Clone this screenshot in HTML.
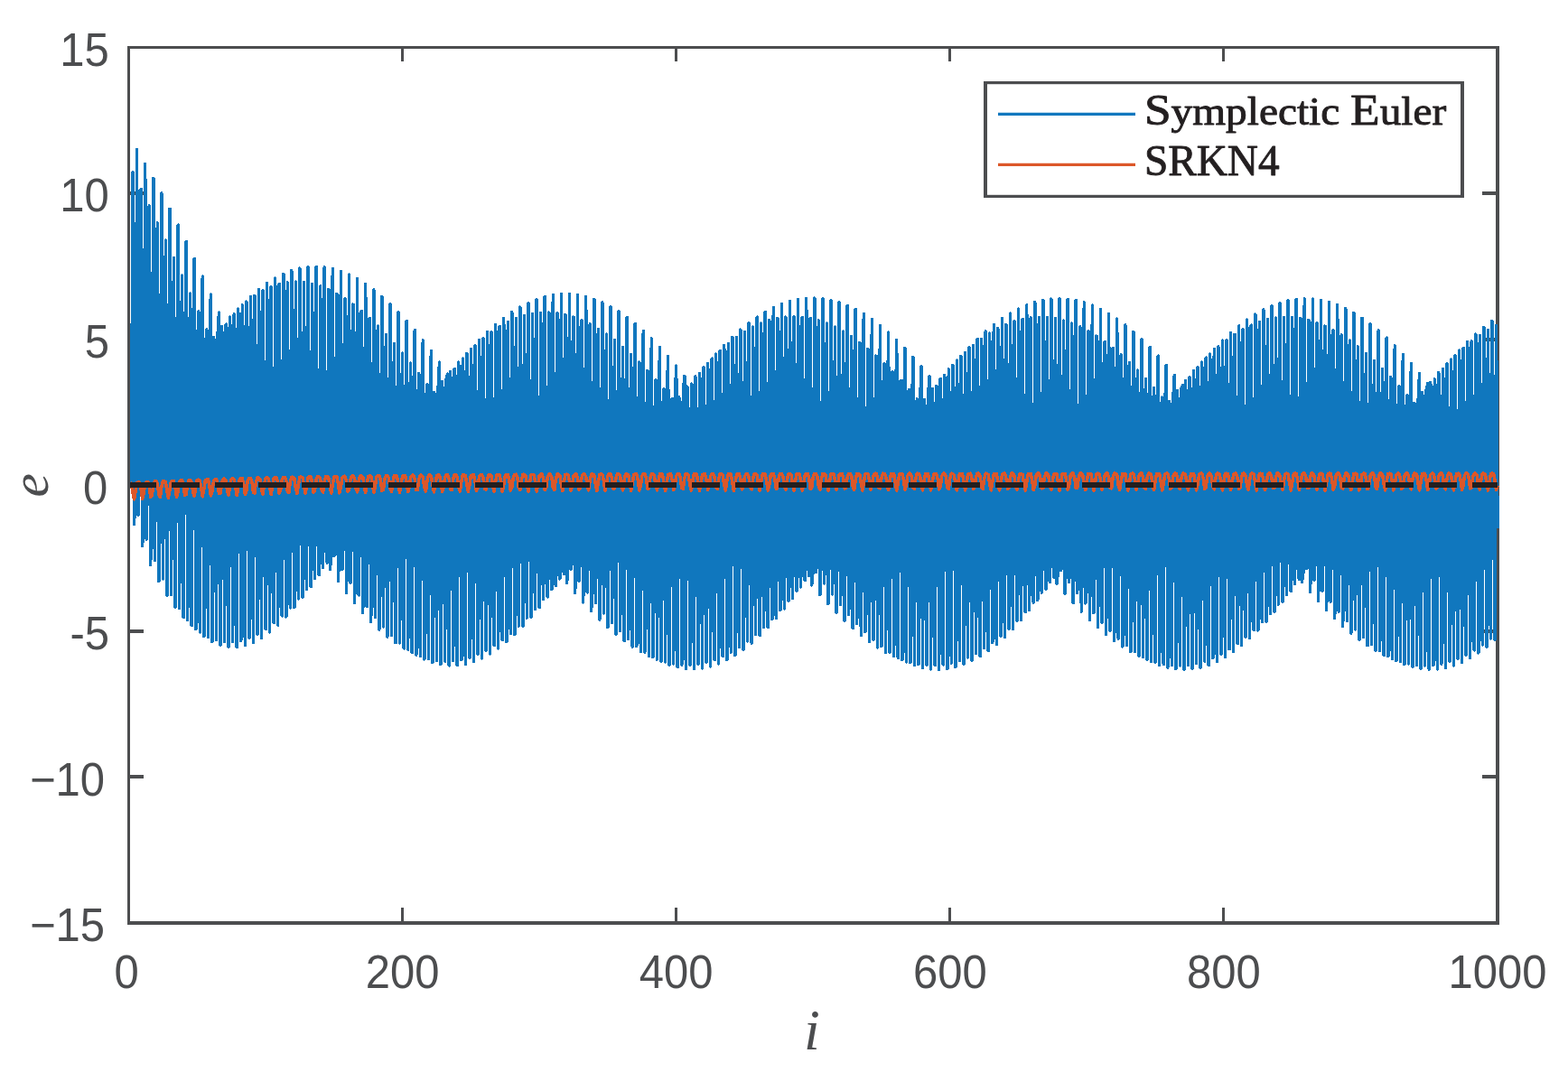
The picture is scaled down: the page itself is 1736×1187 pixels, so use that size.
<!DOCTYPE html>
<html lang="en"><head><meta charset="utf-8"><title>Energy error: Symplectic Euler vs SRKN4</title>
<style>html,body{margin:0;padding:0;background:#fff;overflow:hidden;}svg{display:block;}.tk{font-family:"Liberation Sans",Arial,Helvetica,sans-serif;font-size:49.00px;fill:#4c4d4f;}.lb{font-family:"Liberation Serif","DejaVu Serif",serif;font-style:italic;fill:#4c4d4f;}.lg{font-family:"Liberation Serif","DejaVu Serif",serif;fill:#231f20;stroke:#231f20;stroke-width:0.90;stroke-linejoin:round;}</style></head><body>
<svg width="1736" height="1187" viewBox="0 0 1736 1187">
<rect x="0" y="0" width="1736" height="1187" fill="#ffffff"/>
<g fill="#4c4d4f" stroke="none">
<rect x="141" y="51" width="3" height="973"/>
<rect x="141" y="51" width="1519" height="3"/>
<rect x="1656" y="51" width="4" height="973"/>
<rect x="141" y="1020" width="1519" height="4"/>
<rect x="444" y="1005" width="3" height="16"/>
<rect x="444" y="53" width="3" height="15"/>
<rect x="747" y="1005" width="3" height="16"/>
<rect x="747" y="53" width="3" height="15"/>
<rect x="1050" y="1005" width="3" height="16"/>
<rect x="1050" y="53" width="3" height="15"/>
<rect x="1353" y="1005" width="3" height="16"/>
<rect x="1353" y="53" width="3" height="15"/>
<rect x="143" y="858" width="16" height="4"/>
<rect x="1641" y="858" width="16" height="4"/>
<rect x="143" y="697" width="16" height="4"/>
<rect x="1641" y="697" width="16" height="4"/>
<rect x="143" y="535" width="16" height="4"/>
<rect x="1641" y="535" width="16" height="4"/>
<rect x="143" y="374" width="16" height="4"/>
<rect x="1641" y="374" width="16" height="4"/>
<rect x="143" y="212" width="16" height="4"/>
<rect x="1641" y="212" width="16" height="4"/>
</g>
<polyline fill="none" stroke="#1077be" stroke-width="3.50" stroke-linejoin="round" stroke-linecap="butt" shape-rendering="crispEdges" points="144.0,517.9 145.5,532.5 147.0,190.3 148.6,580.4 150.1,525.6 151.6,165.7 153.1,570.4 154.6,516.9 156.1,209.3 157.7,604.8 159.2,510.6 160.7,181.4 162.2,597.1 163.7,499.9 165.2,228.0 166.7,625.8 168.3,494.4 169.8,197.4 171.3,620.5 172.8,482.3 174.3,246.9 175.8,643.8 177.4,477.7 178.9,214.0 180.4,640.8 181.9,464.7 183.4,266.0 184.9,659.4 186.4,461.0 188.0,231.2 189.5,658.5 191.0,447.5 192.5,285.4 194.0,672.7 195.5,444.6 197.1,249.1 198.6,673.6 200.1,430.8 201.6,305.1 203.1,683.8 204.6,428.5 206.2,267.6 207.7,686.3 209.2,415.0 210.7,325.0 212.2,692.8 213.7,413.1 215.2,286.7 216.8,696.6 218.3,400.0 219.8,345.0 221.3,700.0 222.8,398.3 224.3,306.2 225.9,704.7 227.4,386.1 228.9,365.0 230.4,705.2 231.9,384.4 233.4,326.0 234.9,710.7 236.5,373.3 238.0,385.1 239.5,708.7 241.0,371.3 242.5,346.2 244.0,714.6 245.6,361.7 247.1,405.0 248.6,710.5 250.1,359.1 251.6,366.6 253.1,716.5 254.6,351.2 256.2,424.8 257.7,710.7 259.2,348.0 260.7,387.1 262.2,716.5 263.7,342.0 265.3,444.3 266.8,709.3 268.3,337.9 269.8,407.6 271.3,714.8 272.8,334.1 274.3,463.6 275.9,706.4 277.4,328.8 278.9,428.1 280.4,711.4 281.9,327.3 283.4,482.5 285.0,702.2 286.5,320.8 288.0,448.5 289.5,706.4 291.0,321.9 292.5,501.1 294.1,696.6 295.6,313.8 297.1,468.7 298.6,699.9 300.1,317.7 301.6,519.2 303.1,689.8 304.7,308.0 306.2,488.6 307.7,692.1 309.2,314.7 310.7,536.9 312.2,681.9 313.8,303.3 315.3,508.2 316.8,683.0 318.3,312.9 319.8,554.0 321.3,672.9 322.8,299.7 324.4,527.5 325.9,672.8 327.4,312.2 328.9,570.6 330.4,663.0 331.9,297.1 333.5,546.2 335.0,661.6 336.5,312.7 338.0,586.6 339.5,652.2 341.0,295.7 342.5,564.5 344.1,649.5 345.6,314.3 347.1,601.9 348.6,640.6 350.1,295.3 351.6,582.1 353.2,636.6 354.7,316.9 356.2,616.6 357.7,628.3 359.2,296.0 360.7,599.0 362.2,623.0 363.8,320.6 365.3,630.5 366.8,615.4 368.3,297.7 369.8,615.3 371.3,608.8 372.9,325.2 374.4,643.7 375.9,602.0 377.4,300.4 378.9,630.7 380.4,594.3 381.9,330.7 383.5,656.1 385.0,588.1 386.5,304.1 388.0,645.3 389.5,579.4 391.0,337.1 392.6,667.7 394.1,573.9 395.6,308.8 397.1,658.9 398.6,564.2 400.1,344.4 401.7,678.4 403.2,559.5 404.7,314.4 406.2,671.6 407.7,549.0 409.2,352.4 410.7,688.2 412.3,545.0 413.8,320.9 415.3,683.3 416.8,533.8 418.3,361.1 419.8,697.0 421.4,530.3 422.9,328.3 424.4,694.0 425.9,518.6 427.4,370.5 428.9,705.0 430.4,515.7 432.0,336.5 433.5,703.5 435.0,503.7 436.5,380.5 438.0,711.9 439.5,501.2 441.1,345.6 442.6,711.9 444.1,489.0 445.6,391.1 447.1,717.9 448.6,486.8 450.1,355.3 451.7,719.1 453.2,474.7 454.7,402.2 456.2,722.8 457.7,472.7 459.2,365.8 460.8,725.1 462.3,460.9 463.8,413.8 465.3,726.7 466.8,458.9 468.3,377.0 469.8,729.9 471.4,447.6 472.9,425.8 474.4,729.6 475.9,445.5 477.4,388.8 478.9,733.5 480.5,434.9 482.0,438.2 483.5,731.4 485.0,432.6 486.5,401.1 488.0,735.8 489.5,422.9 491.1,450.9 492.6,732.1 494.1,420.2 495.6,414.0 497.1,736.9 498.6,411.6 500.2,463.9 501.7,731.8 503.2,408.3 504.7,427.4 506.2,736.7 507.7,401.1 509.3,477.0 510.8,730.5 512.3,397.1 513.8,441.1 515.3,735.3 516.8,391.4 518.3,490.4 519.9,728.1 521.4,386.6 522.9,455.3 524.4,732.7 525.9,382.6 527.4,503.9 529.0,724.7 530.5,376.8 532.0,469.7 533.5,728.9 535.0,374.7 536.5,517.4 538.0,720.2 539.6,367.8 541.1,484.4 542.6,723.9 544.1,367.8 545.6,530.9 547.1,714.8 548.7,359.6 550.2,499.3 551.7,717.9 553.2,361.7 554.7,544.5 556.2,708.5 557.7,352.2 559.3,514.3 560.8,710.7 562.3,356.7 563.8,557.9 565.3,701.2 566.8,345.7 568.4,529.3 569.9,702.5 571.4,352.6 572.9,571.2 574.4,693.1 575.9,340.1 577.4,544.4 579.0,693.4 580.5,349.5 582.0,584.3 583.5,684.1 585.0,335.4 586.5,559.3 588.1,683.4 589.6,347.4 591.1,597.2 592.6,674.3 594.1,331.6 595.6,574.1 597.2,672.5 598.7,346.2 600.2,609.9 601.7,663.8 603.2,328.7 604.7,588.7 606.2,660.9 607.8,346.1 609.3,622.1 610.8,652.6 612.3,326.8 613.8,603.0 615.3,648.6 616.9,346.8 618.4,634.0 619.9,640.9 621.4,325.8 622.9,616.9 624.4,635.7 625.9,348.5 627.5,645.5 629.0,628.5 630.5,325.8 632.0,630.4 633.5,622.2 635.0,351.1 636.6,656.5 638.1,615.7 639.6,326.7 641.1,643.4 642.6,608.4 644.1,354.6 645.6,666.9 647.2,602.5 648.7,328.6 650.2,655.9 651.7,594.1 653.2,359.0 654.7,676.8 656.3,588.9 657.8,331.3 659.3,667.7 660.8,579.7 662.3,364.2 663.8,686.1 665.3,575.0 666.9,335.0 668.4,678.8 669.9,565.0 671.4,370.1 672.9,694.7 674.4,561.0 676.0,339.6 677.5,689.2 679.0,550.3 680.5,376.8 682.0,702.5 683.5,546.8 685.0,345.0 686.6,698.7 688.1,535.6 689.6,384.3 691.1,709.7 692.6,532.5 694.1,351.3 695.7,707.4 697.2,521.0 698.7,392.3 700.2,716.0 701.7,518.3 703.2,358.4 704.8,715.2 706.3,506.5 707.8,401.1 709.3,721.6 710.8,504.1 712.3,366.3 713.8,722.0 715.4,492.3 716.9,410.4 718.4,726.3 719.9,490.2 721.4,374.9 722.9,727.8 724.5,478.5 726.0,420.3 727.5,730.1 729.0,476.4 730.5,384.3 732.0,732.5 733.5,465.1 735.1,430.6 736.6,733.0 738.1,463.0 739.6,394.3 741.1,736.2 742.6,452.2 744.2,441.4 745.7,734.9 747.2,449.9 748.7,405.0 750.2,738.8 751.7,439.8 753.2,452.7 754.8,736.0 756.3,437.2 757.8,416.2 759.3,740.3 760.8,428.1 762.3,464.3 763.9,736.1 765.4,425.0 766.9,428.1 768.4,740.6 769.9,417.0 771.4,476.2 772.9,735.2 774.5,413.4 776.0,440.4 777.5,739.8 779.0,406.6 780.5,488.3 782.0,733.4 783.6,402.3 785.1,453.2 786.6,737.9 788.1,397.1 789.6,500.7 791.1,730.6 792.6,392.0 794.2,466.4 795.7,734.9 797.2,388.4 798.7,513.3 800.2,726.8 801.7,382.2 803.3,479.9 804.8,730.8 806.3,380.5 807.8,525.9 809.3,722.1 810.8,373.3 812.4,493.7 813.9,725.6 815.4,373.5 816.9,538.7 818.4,716.5 819.9,365.1 821.4,507.7 823.0,719.3 824.5,367.4 826.0,551.4 827.5,710.0 829.0,357.7 830.5,521.9 832.1,712.0 833.6,362.2 835.1,564.2 836.6,702.7 838.1,351.1 839.6,536.2 841.1,703.8 842.7,358.0 844.2,576.8 845.7,694.5 847.2,345.4 848.7,550.5 850.2,694.6 851.8,354.8 853.3,589.3 854.8,685.5 856.3,340.6 857.8,564.8 859.3,684.6 860.8,352.5 862.4,601.6 863.9,675.7 865.4,336.6 866.9,579.0 868.4,673.8 869.9,351.1 871.5,613.7 873.0,665.2 874.5,333.6 876.0,593.0 877.5,662.2 879.0,350.7 880.5,625.5 882.1,654.1 883.6,331.5 885.1,606.7 886.6,650.0 888.1,351.2 889.6,637.0 891.2,642.4 892.7,330.3 894.2,620.2 895.7,637.2 897.2,352.6 898.7,648.0 900.2,630.2 901.8,330.1 903.3,633.2 904.8,623.9 906.3,355.0 907.8,658.7 909.3,617.4 910.9,330.8 912.4,645.8 913.9,610.1 915.4,358.2 916.9,668.8 918.4,604.3 920.0,332.4 921.5,657.9 923.0,596.0 924.5,362.2 926.0,678.4 927.5,590.8 929.0,334.9 930.6,669.4 932.1,581.7 933.6,367.1 935.1,687.4 936.6,577.0 938.1,338.3 939.7,680.2 941.2,567.1 942.7,372.8 944.2,695.8 945.7,563.1 947.2,342.6 948.7,690.3 950.3,552.5 951.8,379.2 953.3,703.5 954.8,548.9 956.3,347.7 957.8,699.7 959.4,537.9 960.9,386.3 962.4,710.5 963.9,534.8 965.4,353.7 966.9,708.2 968.4,523.3 970.0,394.1 971.5,716.8 973.0,520.6 974.5,360.6 976.0,715.8 977.5,508.9 979.1,402.6 980.6,722.2 982.1,506.5 983.6,368.2 985.1,722.5 986.6,494.8 988.1,411.6 989.7,726.8 991.2,492.6 992.7,376.5 994.2,728.3 995.7,481.0 997.2,421.2 998.8,730.6 1000.3,478.8 1001.8,385.6 1003.3,733.0 1004.8,467.6 1006.3,431.3 1007.9,733.5 1009.4,465.4 1010.9,395.4 1012.4,736.7 1013.9,454.6 1015.4,441.9 1016.9,735.5 1018.5,452.3 1020.0,405.8 1021.5,739.3 1023.0,442.2 1024.5,452.9 1026.0,736.6 1027.6,439.6 1029.1,416.9 1030.6,740.8 1032.1,430.4 1033.6,464.3 1035.1,736.7 1036.6,427.4 1038.2,428.5 1039.7,741.2 1041.2,419.3 1042.7,476.0 1044.2,735.9 1045.7,415.7 1047.3,440.6 1048.8,740.5 1050.3,408.9 1051.8,488.0 1053.3,734.1 1054.8,404.6 1056.3,453.1 1057.9,738.6 1059.4,399.2 1060.9,500.2 1062.4,731.4 1063.9,394.2 1065.4,466.1 1067.0,735.7 1068.5,390.4 1070.0,512.6 1071.5,727.8 1073.0,384.4 1074.5,479.5 1076.0,731.7 1077.6,382.4 1079.1,525.1 1080.6,723.2 1082.1,375.3 1083.6,493.1 1085.1,726.6 1086.7,375.2 1088.2,537.7 1089.7,717.7 1091.2,367.0 1092.7,507.0 1094.2,720.5 1095.7,369.0 1097.3,550.4 1098.8,711.3 1100.3,359.5 1101.8,521.0 1103.3,713.4 1104.8,363.7 1106.4,563.0 1107.9,704.1 1109.4,352.8 1110.9,535.2 1112.4,705.3 1113.9,359.3 1115.5,575.6 1117.0,696.0 1118.5,347.0 1120.0,549.4 1121.5,696.2 1123.0,355.9 1124.5,588.0 1126.1,687.1 1127.6,342.0 1129.1,563.5 1130.6,686.4 1132.1,353.4 1133.6,600.3 1135.2,677.5 1136.7,337.9 1138.2,577.6 1139.7,675.7 1141.2,351.9 1142.7,612.3 1144.2,667.1 1145.8,334.7 1147.3,591.6 1148.8,664.2 1150.3,351.3 1151.8,624.1 1153.3,656.1 1154.9,332.5 1156.4,605.3 1157.9,652.1 1159.4,351.6 1160.9,635.6 1162.4,644.5 1163.9,331.1 1165.5,618.7 1167.0,639.4 1168.5,352.8 1170.0,646.7 1171.5,632.3 1173.0,330.7 1174.6,631.7 1176.1,626.2 1177.6,355.0 1179.1,657.3 1180.6,619.7 1182.1,331.2 1183.6,644.3 1185.2,612.5 1186.7,358.0 1188.2,667.5 1189.7,606.6 1191.2,332.7 1192.7,656.4 1194.3,598.5 1195.8,361.9 1197.3,677.1 1198.8,593.2 1200.3,335.0 1201.8,667.9 1203.4,584.2 1204.9,366.6 1206.4,686.2 1207.9,579.5 1209.4,338.2 1210.9,678.8 1212.4,569.7 1214.0,372.1 1215.5,694.7 1217.0,565.5 1218.5,342.4 1220.0,689.0 1221.5,555.1 1223.1,378.3 1224.6,702.5 1226.1,551.4 1227.6,347.4 1229.1,698.5 1230.6,540.5 1232.1,385.3 1233.7,709.6 1235.2,537.3 1236.7,353.2 1238.2,707.1 1239.7,525.9 1241.2,393.0 1242.8,715.9 1244.3,523.1 1245.8,359.9 1247.3,714.8 1248.8,511.5 1250.3,401.3 1251.8,721.5 1253.4,509.0 1254.9,367.3 1256.4,721.6 1257.9,497.3 1259.4,410.2 1260.9,726.3 1262.5,495.1 1264.0,375.5 1265.5,727.5 1267.0,483.5 1268.5,419.7 1270.0,730.2 1271.5,481.3 1273.1,384.5 1274.6,732.4 1276.1,470.0 1277.6,429.7 1279.1,733.2 1280.6,467.8 1282.2,394.1 1283.7,736.2 1285.2,457.0 1286.7,440.1 1288.2,735.3 1289.7,454.7 1291.2,404.4 1292.8,739.0 1294.3,444.5 1295.8,451.0 1297.3,736.6 1298.8,441.9 1300.3,415.3 1301.9,740.7 1303.4,432.6 1304.9,462.3 1306.4,736.9 1307.9,429.7 1309.4,426.8 1311.0,741.2 1312.5,421.4 1314.0,473.9 1315.5,736.2 1317.0,417.9 1318.5,438.8 1320.0,740.7 1321.6,410.8 1323.1,485.9 1324.6,734.6 1326.1,406.7 1327.6,451.2 1329.1,739.1 1330.7,401.0 1332.2,498.0 1333.7,732.1 1335.2,396.1 1336.7,464.1 1338.2,736.4 1339.7,392.0 1341.3,510.4 1342.8,728.6 1344.3,386.2 1345.8,477.4 1347.3,732.5 1348.8,383.9 1350.4,522.9 1351.9,724.2 1353.4,377.0 1354.9,490.9 1356.4,727.6 1357.9,376.6 1359.4,535.5 1361.0,718.8 1362.5,368.6 1364.0,504.7 1365.5,721.7 1367.0,370.2 1368.5,548.1 1370.1,712.6 1371.6,360.9 1373.1,518.7 1374.6,714.7 1376.1,364.7 1377.6,560.7 1379.1,705.5 1380.7,354.1 1382.2,532.8 1383.7,706.8 1385.2,360.1 1386.7,573.3 1388.2,697.6 1389.8,348.1 1391.3,547.0 1392.8,698.0 1394.3,356.5 1395.8,585.8 1397.3,688.8 1398.8,343.0 1400.4,561.2 1401.9,688.2 1403.4,353.8 1404.9,598.1 1406.4,679.3 1407.9,338.7 1409.5,575.3 1411.0,677.7 1412.5,352.1 1414.0,610.2 1415.5,669.1 1417.0,335.4 1418.6,589.2 1420.1,666.4 1421.6,351.3 1423.1,622.0 1424.6,658.2 1426.1,333.0 1427.6,603.0 1429.2,654.4 1430.7,351.5 1432.2,633.5 1433.7,646.7 1435.2,331.5 1436.7,616.4 1438.3,641.8 1439.8,352.6 1441.3,644.6 1442.8,634.6 1444.3,330.9 1445.8,629.5 1447.3,628.7 1448.9,354.5 1450.4,655.4 1451.9,622.1 1453.4,331.2 1454.9,642.2 1456.4,615.1 1458.0,357.4 1459.5,665.6 1461.0,609.1 1462.5,332.5 1464.0,654.3 1465.5,601.1 1467.0,361.1 1468.6,675.4 1470.1,595.7 1471.6,334.7 1473.1,666.0 1474.6,586.9 1476.1,365.6 1477.7,684.6 1479.2,582.0 1480.7,337.7 1482.2,677.0 1483.7,572.4 1485.2,371.0 1486.7,693.2 1488.3,568.1 1489.8,341.7 1491.3,687.3 1492.8,557.8 1494.3,377.1 1495.8,701.1 1497.4,554.1 1498.9,346.5 1500.4,696.8 1501.9,543.2 1503.4,383.9 1504.9,708.3 1506.5,539.9 1508.0,352.2 1509.5,705.6 1511.0,528.6 1512.5,391.4 1514.0,714.8 1515.5,525.8 1517.1,358.7 1518.6,713.5 1520.1,514.2 1521.6,399.6 1523.1,720.5 1524.6,511.6 1526.2,366.0 1527.7,720.5 1529.2,500.0 1530.7,408.4 1532.2,725.5 1533.7,497.6 1535.2,374.1 1536.8,726.5 1538.3,486.1 1539.8,417.8 1541.3,729.5 1542.8,483.9 1544.3,382.9 1545.9,731.6 1547.4,472.5 1548.9,427.7 1550.4,732.7 1551.9,470.3 1553.4,392.4 1554.9,735.6 1556.5,459.4 1558.0,438.1 1559.5,735.0 1561.0,457.1 1562.5,402.6 1564.0,738.5 1565.6,446.8 1567.1,448.9 1568.6,736.4 1570.1,444.3 1571.6,413.4 1573.1,740.4 1574.6,434.8 1576.2,460.1 1577.7,736.9 1579.2,431.9 1580.7,424.8 1582.2,741.2 1583.7,423.4 1585.3,471.7 1586.8,736.4 1588.3,420.0 1589.8,436.7 1591.3,740.9 1592.8,412.7 1594.3,483.5 1595.9,735.0 1597.4,408.7 1598.9,449.0 1600.4,739.5 1601.9,402.8 1603.4,495.6 1605.0,732.6 1606.5,398.1 1608.0,461.8 1609.5,736.9 1611.0,393.6 1612.5,508.0 1614.1,729.3 1615.6,388.0 1617.1,475.0 1618.6,733.3 1620.1,385.3 1621.6,520.4 1623.1,725.1 1624.7,378.7 1626.2,488.5 1627.7,728.6 1629.2,377.9 1630.7,533.0 1632.2,719.9 1633.8,370.1 1635.3,502.3 1636.8,722.9 1638.3,371.3 1639.8,545.6 1641.3,713.9 1642.8,362.3 1644.4,516.2 1645.9,716.1 1647.4,365.6 1648.9,558.3 1650.4,706.9 1651.9,355.3 1653.5,530.3 1655.0,708.4 1656.5,360.9 1658.0,585.1"/>
<polyline fill="none" stroke="#dc5729" stroke-width="3.50" stroke-linejoin="round" stroke-linecap="butt" shape-rendering="crispEdges" points="144.0,534.4 145.5,535.7 147.0,546.0 148.6,552.9 150.1,543.3 151.6,534.5 153.1,534.0 154.6,534.2 156.1,542.2 157.7,552.3 159.2,546.2 160.7,535.3 162.2,533.5 163.7,533.4 165.2,538.7 166.7,550.4 168.3,548.8 169.8,536.8 171.3,533.0 172.8,533.0 174.3,535.8 175.8,547.4 177.4,550.6 178.9,539.2 180.4,532.7 181.9,532.7 183.4,533.7 184.9,543.8 186.4,551.2 188.0,542.1 189.5,532.9 191.0,532.3 192.5,532.4 194.0,540.0 195.5,550.5 197.1,545.0 198.6,533.9 200.1,531.9 201.6,531.7 203.1,536.6 204.6,548.4 206.2,547.6 207.7,535.6 209.2,531.4 210.7,531.4 212.2,533.9 213.7,545.4 215.2,549.3 216.8,538.2 218.3,531.3 219.8,531.2 221.3,532.0 222.8,541.8 224.3,549.8 225.9,541.1 227.4,531.7 228.9,530.9 230.4,530.9 231.9,538.1 233.4,548.9 234.9,544.2 236.5,532.8 238.0,530.5 239.5,530.4 241.0,534.9 242.5,546.7 244.0,546.7 245.6,534.7 247.1,530.2 248.6,530.2 250.1,532.4 251.6,543.6 253.1,548.3 254.6,537.4 256.2,530.1 257.7,530.0 259.2,530.7 260.7,540.0 262.2,548.6 263.7,540.5 265.3,530.6 266.8,529.7 268.3,529.7 269.8,536.5 271.3,547.5 272.8,543.5 274.3,532.0 275.9,529.4 277.4,529.3 278.9,533.4 280.4,545.3 281.9,546.0 283.4,534.1 285.0,529.1 286.5,529.1 288.0,531.0 289.5,542.1 291.0,547.4 292.5,536.9 294.1,529.2 295.6,529.0 297.1,529.5 298.6,538.5 300.1,547.6 301.6,540.0 303.1,529.9 304.7,528.7 306.2,528.7 307.7,535.1 309.2,546.4 310.7,543.0 312.2,531.3 313.8,528.4 315.3,528.4 316.8,532.1 318.3,544.0 319.8,545.4 321.3,533.6 322.8,528.2 324.4,528.3 325.9,529.9 327.4,540.7 328.9,546.7 330.4,536.5 331.9,528.4 333.5,528.1 335.0,528.5 336.5,537.2 338.0,546.7 339.5,539.7 341.0,529.3 342.5,527.9 344.1,527.9 345.6,533.8 347.1,545.3 348.6,542.7 350.1,530.9 351.6,527.7 353.2,527.6 354.7,531.0 356.2,542.8 357.7,545.0 359.2,533.3 360.7,527.5 362.2,527.6 363.8,529.0 365.3,539.5 366.8,546.1 368.3,536.4 369.8,527.9 371.3,527.5 372.9,527.7 374.4,536.0 375.9,545.9 377.4,539.6 378.9,528.8 380.4,527.3 381.9,527.2 383.5,532.7 385.0,544.4 386.5,542.5 388.0,530.6 389.5,527.0 391.0,527.0 392.6,530.0 394.1,541.7 395.6,544.7 397.1,533.2 398.6,527.0 400.1,527.0 401.7,528.2 403.2,538.4 404.7,545.6 406.2,536.3 407.7,527.4 409.2,526.9 410.7,527.1 412.3,534.9 413.8,545.2 415.3,539.5 416.8,528.5 418.3,526.7 419.8,526.6 421.4,531.7 422.9,543.5 424.4,542.4 425.9,530.5 427.4,526.5 428.9,526.5 430.4,529.2 432.0,540.8 433.5,544.4 435.0,533.2 436.5,526.5 438.0,526.5 439.5,527.5 441.1,537.4 442.6,545.2 444.1,536.3 445.6,527.1 447.1,526.4 448.6,526.5 450.1,534.0 451.7,544.6 453.2,539.6 454.7,528.3 456.2,526.2 457.7,526.2 459.2,530.9 460.8,542.8 462.3,542.4 463.8,530.4 465.3,526.1 466.8,526.1 468.3,528.5 469.8,539.9 471.4,544.2 472.9,533.2 474.4,526.2 475.9,526.1 477.4,526.9 478.9,536.5 480.5,544.8 482.0,536.5 483.5,526.8 485.0,526.0 486.5,526.1 488.0,533.1 489.5,544.1 491.1,539.7 492.6,528.3 494.1,525.9 495.6,525.8 497.1,530.1 498.6,542.0 500.2,542.4 501.7,530.5 503.2,525.7 504.7,525.8 506.2,527.9 507.7,539.1 509.3,544.1 510.8,533.4 512.3,525.9 513.8,525.8 515.3,526.4 516.8,535.7 518.3,544.5 519.9,536.7 521.4,526.7 522.9,525.7 524.4,525.7 525.9,532.3 527.4,543.5 529.0,539.9 530.5,528.3 532.0,525.5 533.5,525.5 535.0,529.4 536.5,541.3 538.0,542.4 539.6,530.6 541.1,525.5 542.6,525.5 544.1,527.3 545.6,538.3 547.1,544.0 548.7,533.6 550.2,525.7 551.7,525.5 553.2,526.0 554.7,534.9 556.2,544.2 557.7,536.9 559.3,526.6 560.8,525.4 562.3,525.4 563.8,531.6 565.3,543.0 566.8,540.1 568.4,528.3 569.9,525.3 571.4,525.2 572.9,528.8 574.4,540.7 575.9,542.5 577.4,530.8 579.0,525.2 580.5,525.3 582.0,526.8 583.5,537.5 585.0,543.9 586.5,533.9 588.1,525.6 589.6,525.3 591.1,525.7 592.6,534.1 594.1,543.9 595.6,537.2 597.2,526.6 598.7,525.2 600.2,525.1 601.7,530.9 603.2,542.5 604.7,540.3 606.2,528.5 607.8,525.1 609.3,525.0 610.8,528.3 612.3,540.0 613.8,542.6 615.3,531.1 616.9,525.1 618.4,525.1 619.9,526.4 621.4,536.8 622.9,543.8 624.4,534.2 625.9,525.5 627.5,525.1 629.0,525.4 630.5,533.4 632.0,543.6 633.5,537.6 635.0,526.7 636.6,525.0 638.1,524.9 639.6,530.3 641.1,542.0 642.6,540.5 644.1,528.6 645.6,524.9 647.2,524.9 648.7,527.8 650.2,539.4 651.7,542.7 653.2,531.4 654.7,525.0 656.3,525.0 657.8,526.0 659.3,536.2 660.8,543.7 662.3,534.6 663.8,525.5 665.3,524.9 666.9,525.1 668.4,532.8 669.9,543.3 671.4,537.9 672.9,526.8 674.4,524.8 676.0,524.8 677.5,529.7 679.0,541.6 680.5,540.8 682.0,528.9 683.5,524.7 685.0,524.8 686.6,527.3 688.1,538.8 689.6,542.8 691.1,531.7 692.6,524.9 694.1,524.8 695.7,525.7 697.2,535.5 698.7,543.6 700.2,535.0 701.7,525.5 703.2,524.8 704.8,524.9 706.3,532.1 707.8,543.0 709.3,538.3 710.8,526.9 712.3,524.7 713.8,524.6 715.4,529.2 716.9,541.1 718.4,541.1 719.9,529.2 721.4,524.6 722.9,524.7 724.5,526.9 726.0,538.2 727.5,542.9 729.0,532.1 730.5,524.8 732.0,524.7 733.5,525.4 735.1,534.9 736.6,543.5 738.1,535.4 739.6,525.6 741.1,524.7 742.6,524.7 744.2,531.6 745.7,542.7 747.2,538.6 748.7,527.1 750.2,524.6 751.7,524.5 753.2,528.7 754.8,540.6 756.3,541.3 757.8,529.5 759.3,524.5 760.8,524.6 762.3,526.5 763.9,537.6 765.4,543.0 766.9,532.5 768.4,524.8 769.9,524.6 771.4,525.2 772.9,534.3 774.5,543.4 776.0,535.8 777.5,525.7 779.0,524.6 780.5,524.6 782.0,531.0 783.6,542.3 785.1,539.0 786.6,527.4 788.1,524.5 789.6,524.5 791.1,528.2 792.6,540.1 794.2,541.6 795.7,529.8 797.2,524.5 798.7,524.5 800.2,526.2 801.7,537.1 803.3,543.1 804.8,532.9 806.3,524.8 807.8,524.6 809.3,525.0 810.8,533.7 812.4,543.2 813.9,536.3 815.4,525.8 816.9,524.5 818.4,524.5 819.9,530.5 821.4,542.0 823.0,539.4 824.5,527.6 826.0,524.4 827.5,524.4 829.0,527.8 830.5,539.6 832.1,541.8 833.6,530.2 835.1,524.4 836.6,524.5 838.1,525.9 839.6,536.5 841.1,543.1 842.7,533.4 844.2,524.9 845.7,524.5 847.2,524.8 848.7,533.1 850.2,543.1 851.8,536.7 853.3,526.0 854.8,524.4 856.3,524.4 857.8,529.9 859.3,541.6 860.8,539.8 862.4,527.9 863.9,524.3 865.4,524.4 866.9,527.4 868.4,539.1 869.9,542.1 871.5,530.6 873.0,524.4 874.5,524.4 876.0,525.6 877.5,535.9 879.0,543.2 880.5,533.8 882.1,525.0 883.6,524.5 885.1,524.7 886.6,532.5 888.1,542.9 889.6,537.2 891.2,526.2 892.7,524.4 894.2,524.3 895.7,529.5 897.2,541.3 898.7,540.2 900.2,528.2 901.8,524.3 903.3,524.3 904.8,527.0 906.3,538.6 907.8,542.3 909.3,531.0 910.9,524.4 912.4,524.4 913.9,525.4 915.4,535.4 916.9,543.2 918.4,534.3 920.0,525.1 921.5,524.4 923.0,524.5 924.5,532.0 926.0,542.7 927.5,537.6 929.0,526.4 930.6,524.3 932.1,524.3 933.6,529.0 935.1,540.9 936.6,540.5 938.1,528.6 939.7,524.3 941.2,524.3 942.7,526.7 944.2,538.1 945.7,542.5 947.2,531.5 948.7,524.4 950.3,524.4 951.8,525.2 953.3,534.8 954.8,543.1 956.3,534.8 957.8,525.2 959.4,524.4 960.9,524.4 962.4,531.5 963.9,542.4 965.4,538.1 966.9,526.7 968.4,524.3 970.0,524.2 971.5,528.6 973.0,540.5 974.5,540.8 976.0,529.0 977.5,524.2 979.1,524.3 980.6,526.4 982.1,537.6 983.6,542.6 985.1,531.9 986.6,524.5 988.1,524.4 989.7,525.0 991.2,534.2 992.7,543.1 994.2,535.3 995.7,525.3 997.2,524.3 998.8,524.3 1000.3,531.0 1001.8,542.2 1003.3,538.5 1004.8,526.9 1006.3,524.2 1007.9,524.2 1009.4,528.1 1010.9,540.1 1012.4,541.2 1013.9,529.4 1015.4,524.2 1016.9,524.3 1018.5,526.1 1020.0,537.1 1021.5,542.8 1023.0,532.4 1024.5,524.6 1026.0,524.3 1027.6,524.8 1029.1,533.7 1030.6,543.0 1032.1,535.8 1033.6,525.5 1035.1,524.3 1036.6,524.3 1038.2,530.5 1039.7,541.9 1041.2,539.0 1042.7,527.2 1044.2,524.2 1045.7,524.2 1047.3,527.8 1048.8,539.6 1050.3,541.5 1051.8,529.8 1053.3,524.2 1054.8,524.3 1056.3,525.8 1057.9,536.5 1059.4,542.9 1060.9,532.9 1062.4,524.6 1063.9,524.3 1065.4,524.7 1067.0,533.2 1068.5,542.9 1070.0,536.3 1071.5,525.7 1073.0,524.3 1074.5,524.2 1076.0,530.0 1077.6,541.6 1079.1,539.4 1080.6,527.6 1082.1,524.2 1083.6,524.2 1085.1,527.4 1086.7,539.2 1088.2,541.7 1089.7,530.2 1091.2,524.2 1092.7,524.3 1094.2,525.6 1095.7,536.0 1097.3,542.9 1098.8,533.4 1100.3,524.7 1101.8,524.3 1103.3,524.6 1104.8,532.6 1106.4,542.8 1107.9,536.8 1109.4,525.9 1110.9,524.2 1112.4,524.2 1113.9,529.5 1115.5,541.3 1117.0,539.8 1118.5,527.9 1120.0,524.1 1121.5,524.2 1123.0,527.0 1124.5,538.7 1126.1,542.0 1127.6,530.7 1129.1,524.3 1130.6,524.3 1132.1,525.4 1133.6,535.5 1135.2,543.0 1136.7,533.9 1138.2,524.9 1139.7,524.3 1141.2,524.5 1142.7,532.1 1144.2,542.6 1145.8,537.3 1147.3,526.2 1148.8,524.2 1150.3,524.1 1151.8,529.1 1153.3,540.9 1154.9,540.2 1156.4,528.3 1157.9,524.1 1159.4,524.2 1160.9,526.7 1162.4,538.2 1163.9,542.2 1165.5,531.1 1167.0,524.3 1168.5,524.3 1170.0,525.2 1171.5,534.9 1173.0,543.0 1174.6,534.4 1176.1,525.0 1177.6,524.3 1179.1,524.4 1180.6,531.6 1182.1,542.4 1183.6,537.7 1185.2,526.4 1186.7,524.2 1188.2,524.1 1189.7,528.7 1191.2,540.6 1192.7,540.6 1194.3,528.7 1195.8,524.1 1197.3,524.2 1198.8,526.4 1200.3,537.7 1201.8,542.4 1203.4,531.6 1204.9,524.4 1206.4,524.3 1207.9,525.0 1209.4,534.4 1210.9,543.0 1212.4,534.9 1214.0,525.1 1215.5,524.2 1217.0,524.3 1218.5,531.1 1220.0,542.2 1221.5,538.2 1223.1,526.7 1224.6,524.2 1226.1,524.1 1227.6,528.3 1229.1,540.2 1230.6,540.9 1232.1,529.1 1233.7,524.1 1235.2,524.2 1236.7,526.1 1238.2,537.2 1239.7,542.6 1241.2,532.1 1242.8,524.4 1244.3,524.3 1245.8,524.8 1247.3,533.9 1248.8,543.0 1250.3,535.5 1251.8,525.3 1253.4,524.2 1254.9,524.2 1256.4,530.6 1257.9,542.0 1259.4,538.7 1260.9,527.0 1262.5,524.1 1264.0,524.1 1265.5,527.9 1267.0,539.8 1268.5,541.2 1270.0,529.5 1271.5,524.1 1273.1,524.2 1274.6,525.9 1276.1,536.7 1277.6,542.7 1279.1,532.6 1280.6,524.5 1282.2,524.3 1283.7,524.7 1285.2,533.4 1286.7,542.9 1288.2,536.0 1289.7,525.5 1291.2,524.2 1292.8,524.2 1294.3,530.2 1295.8,541.7 1297.3,539.1 1298.8,527.3 1300.3,524.1 1301.9,524.1 1303.4,527.5 1304.9,539.3 1306.4,541.5 1307.9,529.9 1309.4,524.2 1311.0,524.2 1312.5,525.6 1314.0,536.2 1315.5,542.8 1317.0,533.1 1318.5,524.6 1320.0,524.3 1321.6,524.6 1323.1,532.8 1324.6,542.8 1326.1,536.5 1327.6,525.7 1329.1,524.2 1330.7,524.1 1332.2,529.7 1333.7,541.4 1335.2,539.5 1336.7,527.7 1338.2,524.1 1339.7,524.1 1341.3,527.2 1342.8,538.9 1344.3,541.8 1345.8,530.4 1347.3,524.2 1348.8,524.2 1350.4,525.4 1351.9,535.7 1353.4,542.9 1354.9,533.6 1356.4,524.7 1357.9,524.2 1359.4,524.5 1361.0,532.3 1362.5,542.7 1364.0,537.0 1365.5,526.0 1367.0,524.2 1368.5,524.1 1370.1,529.3 1371.6,541.1 1373.1,540.0 1374.6,528.0 1376.1,524.1 1377.6,524.1 1379.1,526.8 1380.7,538.4 1382.2,542.1 1383.7,530.8 1385.2,524.2 1386.7,524.2 1388.2,525.2 1389.8,535.2 1391.3,543.0 1392.8,534.1 1394.3,524.9 1395.8,524.2 1397.3,524.4 1398.8,531.8 1400.4,542.5 1401.9,537.5 1403.4,526.2 1404.9,524.1 1406.4,524.1 1407.9,528.8 1409.5,540.7 1411.0,540.3 1412.5,528.4 1414.0,524.1 1415.5,524.1 1417.0,526.5 1418.6,537.9 1420.1,542.3 1421.6,531.3 1423.1,524.3 1424.6,524.2 1426.1,525.0 1427.6,534.6 1429.2,543.0 1430.7,534.6 1432.2,525.0 1433.7,524.2 1435.2,524.3 1436.7,531.3 1438.3,542.3 1439.8,537.9 1441.3,526.5 1442.8,524.1 1444.3,524.1 1445.8,528.4 1447.3,540.3 1448.9,540.7 1450.4,528.8 1451.9,524.1 1453.4,524.1 1454.9,526.2 1456.4,537.5 1458.0,542.5 1459.5,531.8 1461.0,524.4 1462.5,524.2 1464.0,524.9 1465.5,534.1 1467.0,543.0 1468.6,535.2 1470.1,525.2 1471.6,524.2 1473.1,524.2 1474.6,530.8 1476.1,542.1 1477.7,538.4 1479.2,526.8 1480.7,524.1 1482.2,524.1 1483.7,528.0 1485.2,539.9 1486.7,541.1 1488.3,529.2 1489.8,524.1 1491.3,524.2 1492.8,526.0 1494.3,537.0 1495.8,542.6 1497.4,532.3 1498.9,524.4 1500.4,524.2 1501.9,524.7 1503.4,533.6 1504.9,542.9 1506.5,535.7 1508.0,525.4 1509.5,524.2 1511.0,524.2 1512.5,530.4 1514.0,541.8 1515.5,538.9 1517.1,527.1 1518.6,524.1 1520.1,524.1 1521.6,527.7 1523.1,539.5 1524.6,541.4 1526.2,529.7 1527.7,524.1 1529.2,524.2 1530.7,525.7 1532.2,536.5 1533.7,542.8 1535.2,532.8 1536.8,524.5 1538.3,524.2 1539.8,524.6 1541.3,533.1 1542.8,542.8 1544.3,536.2 1545.9,525.6 1547.4,524.2 1548.9,524.1 1550.4,529.9 1551.9,541.5 1553.4,539.3 1554.9,527.5 1556.5,524.1 1558.0,524.1 1559.5,527.3 1561.0,539.1 1562.5,541.7 1564.0,530.1 1565.6,524.2 1567.1,524.2 1568.6,525.5 1570.1,535.9 1571.6,542.9 1573.1,533.3 1574.6,524.7 1576.2,524.2 1577.7,524.5 1579.2,532.6 1580.7,542.7 1582.2,536.7 1583.7,525.8 1585.3,524.2 1586.8,524.1 1588.3,529.5 1589.8,541.2 1591.3,539.7 1592.8,527.8 1594.3,524.1 1595.9,524.1 1597.4,527.0 1598.9,538.6 1600.4,541.9 1601.9,530.6 1603.4,524.2 1605.0,524.2 1606.5,525.3 1608.0,535.4 1609.5,542.9 1611.0,533.9 1612.5,524.8 1614.1,524.2 1615.6,524.4 1617.1,532.1 1618.6,542.6 1620.1,537.2 1621.6,526.1 1623.1,524.1 1624.7,524.1 1626.2,529.0 1627.7,540.9 1629.2,540.1 1630.7,528.2 1632.2,524.1 1633.8,524.1 1635.3,526.7 1636.8,538.2 1638.3,542.2 1639.8,531.1 1641.3,524.2 1642.8,524.2 1644.4,525.1 1645.9,534.9 1647.4,543.0 1648.9,534.4 1650.4,524.9 1651.9,524.2 1653.5,524.3 1655.0,531.6 1656.5,542.4 1658.0,537.7"/>
<line x1="142.2" y1="537" x2="1658.00" y2="537" stroke="#231f20" stroke-width="5.8" stroke-dasharray="30.7 17.3" shape-rendering="crispEdges"/>
<rect x="141" y="51" width="3" height="973" fill="#4c4d4f"/>
<text class="tk" transform="translate(140.0 1093.9) scale(1 1.055)" text-anchor="middle">0</text>
<text class="tk" transform="translate(445.6 1093.9) scale(1 1.055)" text-anchor="middle">200</text>
<text class="tk" transform="translate(748.7 1093.9) scale(1 1.055)" text-anchor="middle">400</text>
<text class="tk" transform="translate(1051.8 1093.9) scale(1 1.055)" text-anchor="middle">600</text>
<text class="tk" transform="translate(1354.9 1093.9) scale(1 1.055)" text-anchor="middle">800</text>
<text class="tk" transform="translate(1658.0 1093.9) scale(1 1.055)" text-anchor="middle">1000</text>
<text class="tk" transform="translate(120.8 72.7) scale(1 1.055)" text-anchor="end">15</text>
<text class="tk" transform="translate(120.8 234.4) scale(1 1.055)" text-anchor="end">10</text>
<text class="tk" transform="translate(121.0 395.9) scale(1 1.055)" text-anchor="end">5</text>
<text class="tk" transform="translate(119.3 557.5) scale(1 1.055)" text-anchor="end">0</text>
<text class="tk" transform="translate(121.0 719.1) scale(1 1.055)" text-anchor="end">-5</text>
<text class="tk" transform="translate(116.0 880.8) scale(1 1.055)" text-anchor="end">−10</text>
<text class="tk" transform="translate(116.0 1042.3) scale(1 1.055)" text-anchor="end">−15</text>
<text class="lb" font-size="64" x="898.8" y="1162" text-anchor="middle">i</text>
<text class="lb" font-size="59.5" transform="translate(53 537.2) rotate(-90)" text-anchor="middle">e</text>
<rect x="1089" y="90" width="532" height="129" fill="#ffffff"/>
<g fill="#4c4d4f" stroke="none"><rect x="1089" y="90" width="4" height="129"/><rect x="1617" y="90" width="4" height="129"/><rect x="1089" y="90" width="532" height="3.2"/><rect x="1089" y="215.8" width="532" height="3.2"/></g>
<line x1="1105" y1="126.45" x2="1257" y2="126.45" stroke="#1077be" stroke-width="3.2"/>
<line x1="1105" y1="182.4" x2="1257" y2="182.4" stroke="#dc5729" stroke-width="3.2"/>
<text class="lg" x="1266.9" y="138.0" textLength="334.4" lengthAdjust="spacingAndGlyphs"><tspan font-size="49.0">S</tspan><tspan font-size="43.5">ymplectic </tspan><tspan font-size="49.0">E</tspan><tspan font-size="43.5">uler</tspan></text>
<text class="lg" font-size="49.0" x="1266.9" y="194.0" textLength="149.7" lengthAdjust="spacingAndGlyphs">SRKN4</text>
</svg></body></html>
